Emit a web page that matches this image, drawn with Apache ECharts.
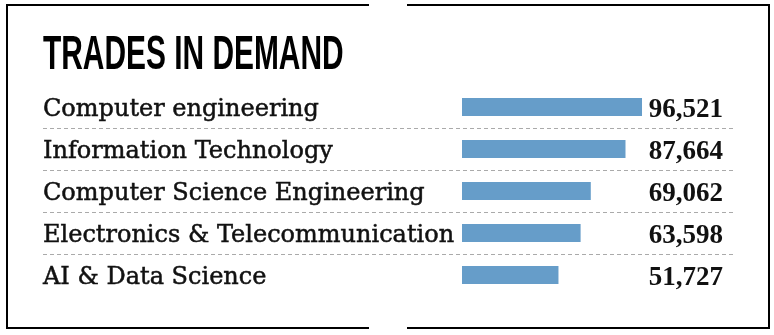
<!DOCTYPE html>
<html><head><meta charset="utf-8">
<script src="https://cdn.jsdelivr.net/npm/echarts@6/dist/echarts.min.js"></script>
<style>html,body{margin:0;padding:0;background:#fff}#c{width:774px;height:335px}</style>
</head><body><div id="c"></div>
<script>
const title = 'TRADES IN DEMAND';
const categories = ['Computer engineering', 'Information Technology', 'Computer Science Engineering', 'Electronics & Telecommunication', 'AI & Data Science'];
const values = [96521, 87664, 69062, 63598, 51727];

const chart = echarts.init(document.getElementById('c'));
const fmt = v => v.toLocaleString('en-US');
const serif = 'DejaVu Serif';
chart.setOption({
  animation: false,
  grid: {left: 462, top: 86, width: 186.5, height: 210},
  xAxis: {type: 'value', min: 0, max: 100000, show: false},
  yAxis: {
    type: 'category', data: categories, inverse: true,
    axisLine: {show: false}, axisTick: {show: false}, splitLine: {show: false},
    axisLabel: {align: 'left', verticalAlign: 'top', lineHeight: 5, margin: 419, fontFamily: serif, fontSize: 24, color: '#111',
      textBorderColor: '#111', textBorderWidth: 0.5}
  },
  series: [{
    type: 'bar', data: values, barWidth: 18,
    itemStyle: {color: '#669dc9'},
    label: {show: true, position: [261, '50%'], align: 'right', verticalAlign: 'middle', offset: [0, 3],
      formatter: p => fmt(p.value), fontFamily: 'Liberation Serif', fontWeight: 'bold', fontSize: 27, color: '#111'}
  }]
});

const g = [];
for (let i = 0; i < categories.length - 1; i++) {
  const y = Math.round((chart.convertToPixel({yAxisIndex: 0}, i) + chart.convertToPixel({yAxisIndex: 0}, i + 1)) / 2) + 0.5;
  g.push({type: 'line', shape: {x1: 43, y1: y, x2: 733, y2: y}, style: {stroke: '#aaaaaa', lineWidth: 1, lineDash: [4, 3]}});
}
g.push({type: 'polyline', shape: {points: [[369, 5], [7, 5], [7, 328], [369, 328]]}, style: {stroke: '#000', lineWidth: 2, fill: null}});
g.push({type: 'polyline', shape: {points: [[407, 5], [769, 5], [769, 328], [407, 328]]}, style: {stroke: '#000', lineWidth: 2, fill: null}});
g.push({type: 'text', x: 43, y: 55, scaleX: 0.61, style: {text: title, x: 0, y: 0, fontFamily: 'Liberation Sans', fontWeight: 'bold', fontSize: 49, fill: '#000', verticalAlign: 'middle', align: 'left'}});
chart.setOption({graphic: g});
</script></body></html>
